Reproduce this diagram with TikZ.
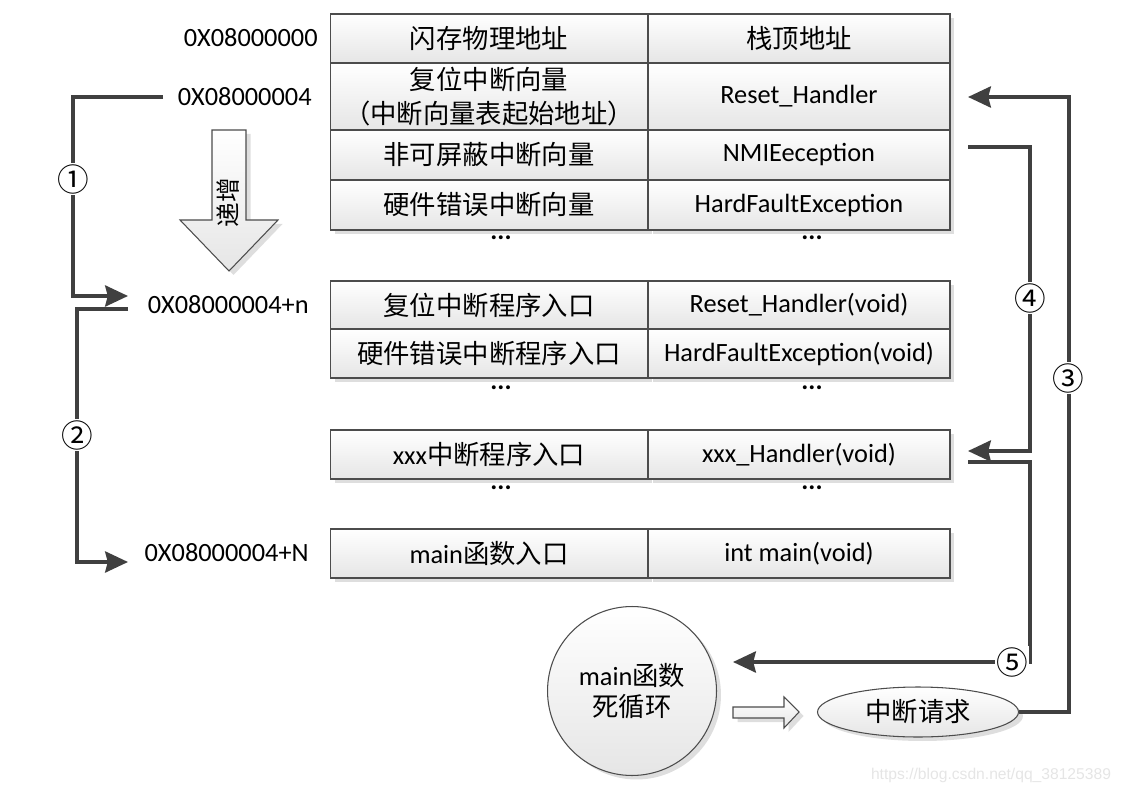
\documentclass[tikz,border=0pt]{standalone}
\usepackage{fontspec}
\setmainfont{Carlito}
\newfontfamily\cjk{Noto Sans CJK SC}
\newfontfamily\wmfont{Liberation Sans}
\usetikzlibrary{arrows.meta,shadows,shapes.geometric,positioning}
\newcommand\zh[1]{{\cjk #1}}

\begin{document}
\begin{tikzpicture}[x=0.02cm,y=-0.02cm]
\tikzstyle{shade}=[draw=black!70, line width=0.6pt, top color=white, bottom color=black!10, drop shadow={shadow xshift=0.09cm, shadow yshift=-0.08cm, fill=black!13, opacity=1}]
\tikzstyle{cell}=[shade, inner sep=0pt, align=center, font=\fontsize{15}{19.3}\selectfont]
\tikzstyle{lcell}=[cell, minimum width=6.36cm]
\tikzstyle{rcell}=[cell, minimum width=6.04cm]
\tikzstyle{addr}=[anchor=east, inner sep=0pt, font=\fontsize{15}{18}\selectfont]
\tikzstyle{dots}=[anchor=base, inner sep=0pt, font=\bfseries\fontsize{15}{15}\selectfont]
\tikzstyle{flow}=[draw=black!75, line width=2pt, -{Stealth[length=13pt,width=12pt,inset=1.5pt]}]
\tikzstyle{num}=[fill=white, inner sep=0.5pt, font=\cjk\fontsize{18}{18}\selectfont]

\useasboundingbox (0,0) rectangle (1121,793);

% vector table
\node[lcell, minimum height=0.98cm] (v0l) at (489,38.5) {\zh{闪存物理地址}};
\node[rcell, minimum height=0.98cm] (v0r) at (799,38.5) {\zh{栈顶地址}};
\node[lcell, minimum height=1.34cm] (v1l) at (489,96.5) {\zh{复位中断向量}\\\zh{（中断向量表起始地址）}};
\node[rcell, minimum height=1.34cm] (v1r) at (799,96.5) {Reset\_Handler};
\node[lcell, minimum height=1.0cm] (v2l) at (489,155) {\zh{非可屏蔽中断向量}};
\node[rcell, minimum height=1.0cm] (v2r) at (799,155) {NMIEeception};
\node[lcell, minimum height=1.0cm] (v3l) at (489,205) {\zh{硬件错误中断向量}};
\node[rcell, minimum height=1.0cm] (v3r) at (799,205) {HardFaultException};
\node[dots] (d1l) at (501,240) {...};
\node[dots] (d1r) at (812,240) {...};

% handler entries
\node[lcell, minimum height=0.96cm] (h0l) at (489,305) {\zh{复位中断程序入口}};
\node[rcell, minimum height=0.96cm] (h0r) at (799,305) {Reset\_Handler(void)};
\node[lcell, minimum height=0.98cm] (h1l) at (489,353.5) {\zh{硬件错误中断程序入口}};
\node[rcell, minimum height=0.98cm] (h1r) at (799,353.5) {HardFaultException(void)};
\node[dots] (d2l) at (501,389) {...};
\node[dots] (d2r) at (812,389) {...};

\node[lcell, minimum height=0.98cm] (x0l) at (489,454.5) {xxx\zh{中断程序入口}};
\node[rcell, minimum height=0.98cm] (x0r) at (799,454.5) {xxx\_Handler(void)};
\node[dots] (d3l) at (501,489) {...};
\node[dots] (d3r) at (812,489) {...};

\node[lcell, minimum height=0.98cm] (m0l) at (489,553.5) {main\zh{函数入口}};
\node[rcell, minimum height=0.98cm] (m0r) at (799,553.5) {int main(void)};

% addresses
\node[addr] (a0) at (318,38) {0X08000000};
\node[addr] (a1) at (312,97) {0X08000004};
\node[addr] (an) at (309,305) {0X08000004+n};
\node[addr] (aN) at (309,553) {0X08000004+N};

% increasing arrow
\path[shade] (212,130) -- (246,130) -- (246,220) -- (278,220) -- (229,271)
  -- (180,220) -- (212,220) -- cycle;
\node[rotate=90, font=\cjk\fontsize{14}{14}\selectfont] (inc) at (228,203) {递增};

% main loop and request
\node[shade, circle, minimum size=3.38cm, inner sep=0pt, align=center,
  font=\fontsize{15}{18}\selectfont] (loop) at (632,691) {main\zh{函数}\\\zh{死循环}};
\node[shade, ellipse, minimum width=4.02cm, minimum height=1.0cm, inner sep=0pt,
  font=\cjk\fontsize{15}{15}\selectfont] (irq) at (918,712) {中断请求};
\path[shade] (733,707) -- (784,707) -- (784,697) -- (799,712) -- (784,728)
  -- (784,718) -- (733,718) -- cycle;

% flow
\coordinate (p1s) at (163,97);
\coordinate (p1e) at (128,296);
\coordinate (p2s) at (128,309);
\coordinate (p2e) at (128,562);
\coordinate (p3e) at (968,97);
\coordinate (p4s) at (968,147);
\coordinate (p4e) at (968,451);
\coordinate (p5s) at (968,462);
\coordinate (p5e) at (733,662);

\draw[flow] (p1s) -- ++(-90,0) |- (p1e);
\draw[flow] (p2s) -- ++(-51,0) |- (p2e);
\draw[flow] (irq.east) -- ++(50,0) |- (p3e);
\draw[flow] (p4s) -- ++(62,0) |- (p4e);
\draw[flow] (p5s) -- ++(62,0) |- (p5e);

\node[num] (n1) at (73,179) {①};
\node[num] (n2) at (77,435) {②};
\node[num] (n3) at (1068,378) {③};
\node[num] (n4) at (1030,298) {④};
\node[num] (n5) at (1012,662) {⑤};

\node[font=\wmfont\fontsize{8.9}{9}\selectfont, text=black!10, inner sep=0pt] (wm) at (991,775)
  {https://blog.csdn.net/qq\_38125389};
\end{tikzpicture}
\end{document}
